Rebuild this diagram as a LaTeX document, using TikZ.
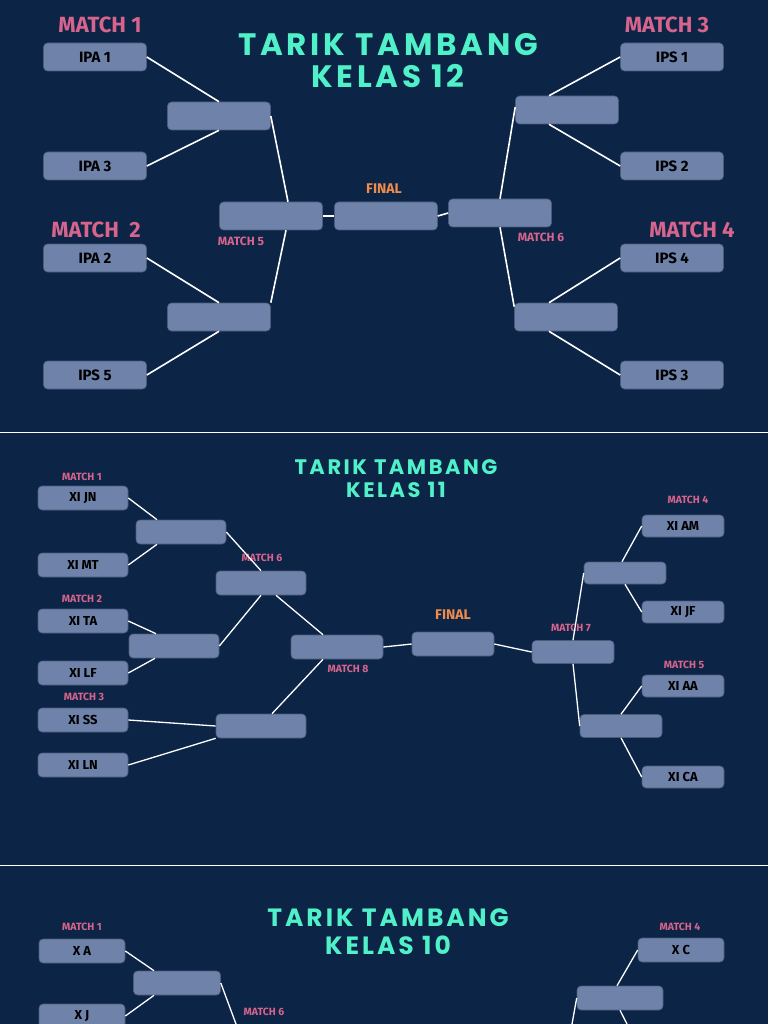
\documentclass[tikz,border=0pt]{standalone}
\usepackage{fontspec}
\setmainfont{Fira Sans}
\newfontfamily\titlefont[LetterSpace=12]{Poppins}
\definecolor{bg}{RGB}{12,36,70}
\definecolor{bx}{RGB}{110,130,170}
\definecolor{ttl}{RGB}{80,240,200}
\definecolor{pk}{RGB}{215,100,140}
\definecolor{orn}{RGB}{240,140,75}
\tikzset{
 team/.style={draw=bx!70!black,line width=0.6pt,fill=bx,rounded corners=4pt,minimum width=103pt,minimum height=28pt,inner sep=0pt,font=\bfseries\fontsize{15}{15}\selectfont,text=black},
 tsm/.style={team,minimum width=90pt,minimum height=24pt,font=\bfseries\fontsize{13}{13}\selectfont},
 tts/.style={team,minimum width=86pt,minimum height=24pt,font=\bfseries\fontsize{13}{13}\selectfont},
 ln/.style={draw=white,line width=1.6pt},
 big/.style={text=pk,font=\bfseries\fontsize{22}{22}\selectfont},
 sml/.style={text=pk,font=\bfseries\fontsize{12}{12}\selectfont},
 tiny/.style={text=pk,font=\bfseries\fontsize{10.5}{10.5}\selectfont},
 fin/.style={text=orn,font=\bfseries\fontsize{14}{14}\selectfont},
 ttlA/.style={text=ttl,font=\titlefont\bfseries\fontsize{31}{31}\selectfont,align=center},
 ttlB/.style={text=ttl,font=\titlefont\bfseries\fontsize{21}{21}\selectfont,align=center},
}
\begin{document}
\begin{tikzpicture}[x=1pt,y=-1pt]
\fill[bg] (0,0) rectangle (768,1024);
\useasboundingbox (0,0) rectangle (768,1024);
\coordinate (s1a) at (0,432); \coordinate (s1b) at (768,432);
\coordinate (s2a) at (0,865); \coordinate (s2b) at (768,865);
\draw[white,line width=1pt] (s1a) -- (s1b) (s2a) -- (s2b);
% ===== Section 1 =====
\node[ttlA] (t1) at (388,45) {TARIK TAMBANG};
\node[ttlA] (t1b) at (388,76) {KELAS 12};
\node[big] (lm1) at (100,25) {MATCH 1};
\node[big] (lm3) at (667,25) {MATCH 3};
\node[big] (lm2) at (96,230) {MATCH\ \ 2};
\node[big] (lm4) at (692,230) {MATCH 4};
\node[sml] (lm5) at (241,241) {MATCH 5};
\node[sml] (lm6) at (541,237) {MATCH 6};
\node[fin] (lf) at (384,189) {FINAL};
\node[team] (ipa1) at (95,57) {IPA 1};
\node[team] (ipa3) at (95,166) {IPA 3};
\node[team] (ipa2) at (95,258) {IPA 2};
\node[team] (ips5) at (95,375) {IPS 5};
\node[team] (ips1) at (672,57) {IPS 1};
\node[team] (ips2) at (672,166) {IPS 2};
\node[team] (ips4) at (672,258) {IPS 4};
\node[team] (ips3) at (672,375) {IPS 3};
\node[team] (a1) at (219,116) {};
\node[team] (a2) at (219,317) {};
\node[team] (a5) at (271,216) {};
\node[team] (af) at (386,216) {};
\node[team] (a6) at (500,213) {};
\node[team] (a3) at (567,110) {};
\node[team] (a4) at (566,317) {};
\draw[ln] (ipa1.east) -- (a1.north);
\draw[ln] (ipa3.east) -- (a1.south);
\draw[ln] (ipa2.east) -- (a2.north);
\draw[ln] (ips5.east) -- (a2.south);
\draw[ln] (a1.east) -- ([xshift=17pt]a5.north);
\draw[ln] (a2.north east) -- ([xshift=15pt]a5.south);
\draw[ln] (a5.east) -- (af.west);
\draw[ln] (af.east) -- (a6.west);
\draw[ln] ([yshift=3pt]a3.west) -- (a6.north);
\draw[ln] (a6.south) -- ([yshift=-4pt]a4.north west);
\draw[ln] (ips1.west) -- ([xshift=-18pt]a3.north);
\draw[ln] (ips2.west) -- ([xshift=-18pt]a3.south);
\draw[ln] (ips4.west) -- ([xshift=-17pt]a4.north);
\draw[ln] (ips3.west) -- ([xshift=-17pt]a4.south);
% ===== Section 2 =====
\node[ttlB] (t2) at (396,467) {TARIK TAMBANG};
\node[ttlB] (t2b) at (396,490) {KELAS 11};
\node[tiny] (k1) at (82,477) {MATCH 1};
\node[tiny] (k2) at (82,599) {MATCH 2};
\node[tiny] (k3) at (84,697) {MATCH 3};
\node[tiny] (k4) at (688,500) {MATCH 4};
\node[tiny] (k5) at (684,665) {MATCH 5};
\node[tiny] (k6) at (262,558) {MATCH 6};
\node[tiny] (k7) at (571,628) {MATCH 7};
\node[tiny] (k8) at (348,669) {MATCH 8};
\node[fin] (kf) at (453,615) {FINAL};
\node[tsm] (jn) at (83,498) {XI JN};
\node[tsm] (mt) at (83,565) {XI MT};
\node[tsm] (ta) at (83,621) {XI TA};
\node[tsm] (lf2) at (83,673) {XI LF};
\node[tsm] (ss) at (83,720) {XI SS};
\node[tsm] (lnn) at (83,765) {XI LN};
\node[tts,minimum width=82pt,minimum height=22pt] (am) at (683,526) {XI AM};
\node[tts,minimum width=82pt,minimum height=22pt] (jf) at (683,612) {XI JF};
\node[tts,minimum width=82pt,minimum height=22pt] (aa) at (683,686) {XI AA};
\node[tts,minimum width=82pt,minimum height=22pt] (ca) at (683,777) {XI CA};
\node[tsm] (b1) at (181,532) {};
\node[tsm] (b2) at (174,646) {};
\node[tsm] (b3) at (261,726) {};
\node[tsm] (b6) at (261,583) {};
\node[tsm,minimum width=92pt] (b8) at (337,647) {};
\node[tsm,minimum width=82pt] (bf) at (453,644) {};
\node[tsm,minimum width=82pt,minimum height=23pt] (b7) at (573,652) {};
\node[tsm,minimum width=82pt,minimum height=22pt] (b4) at (625,573) {};
\node[tsm,minimum width=82pt,minimum height=23pt] (b5) at (621,726) {};
\draw[ln,line width=1.3pt] (jn.east) -- ([xshift=-24pt]b1.north);
\draw[ln,line width=1.3pt] (mt.east) -- ([xshift=-24pt]b1.south);
\draw[ln,line width=1.3pt] (b1.east) -- (b6.north);
\draw[ln,line width=1.3pt] (ta.east) -- ([xshift=-18pt]b2.north);
\draw[ln,line width=1.3pt] (lf2.east) -- ([xshift=-19pt]b2.south);
\draw[ln,line width=1.3pt] (b2.east) -- (b6.south);
\draw[ln,line width=1.3pt] ([xshift=15pt]b6.south) -- ([xshift=-14pt]b8.north);
\draw[ln,line width=1.3pt] (ss.east) -- (b3.west);
\draw[ln,line width=1.3pt] (lnn.east) -- (b3.south west);
\draw[ln,line width=1.3pt] ([xshift=11pt]b3.north) -- ([xshift=-14pt]b8.south);
\draw[ln,line width=1.3pt] (b8.east) -- (bf.west);
\draw[ln,line width=1.3pt] (bf.east) -- (b7.west);
\draw[ln,line width=1.3pt] (b7.north) -- (b4.west);
\draw[ln,line width=1.3pt] (b7.south) -- (b5.west);
\draw[ln,line width=1.3pt] ([xshift=-3pt]b4.north) -- (am.west);
\draw[ln,line width=1.3pt] (b4.south) -- (jf.west);
\draw[ln,line width=1.3pt] (b5.north) -- (aa.west);
\draw[ln,line width=1.3pt] (b5.south) -- (ca.west);
% ===== Section 3 =====
\node[ttlB,font=\titlefont\bfseries\fontsize{25}{25}\selectfont] (t3) at (388,918) {TARIK TAMBANG};
\node[ttlB,font=\titlefont\bfseries\fontsize{25}{25}\selectfont] (t3b) at (388,945) {KELAS 10};
\node[tiny] (c1) at (82,927) {MATCH 1};
\node[tiny] (c4) at (680,927) {MATCH 4};
\node[tiny] (c6) at (264,1012) {MATCH 6};
\node[tts] (xa) at (82,951) {X A};
\node[tts] (xj) at (82,1016) {X J};
\node[tts] (xc) at (681,950) {X C};
\node[tts,minimum width=87pt] (d1) at (177,983) {};
\node[tts] (d4) at (620,998) {};
\coordinate (e1) at (236,1024);
\coordinate (e4) at (627,1024);
\coordinate (e5) at (572,1024);
\draw[ln,line width=1.3pt] (xa.east) -- ([xshift=-23pt]d1.north);
\draw[ln,line width=1.3pt] (xj.east) -- ([xshift=-23pt]d1.south);
\draw[ln,line width=1.3pt] (d1.east) -- (e1);
\draw[ln,line width=1.3pt] (xc.west) -- ([xshift=-3pt]d4.north);
\draw[ln,line width=1.3pt] (d4.south) -- (e4);
\draw[ln,line width=1.3pt] (d4.west) -- (e5);
\end{tikzpicture}
\end{document}
